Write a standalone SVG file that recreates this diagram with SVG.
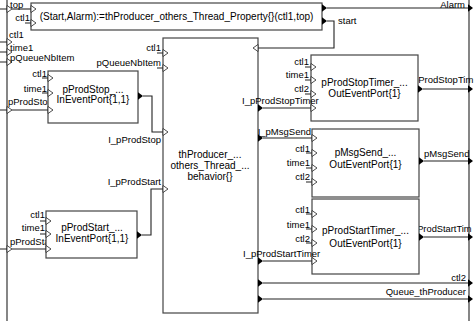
<svg xmlns="http://www.w3.org/2000/svg" xmlns:xlink="http://www.w3.org/1999/xlink" width="474" height="321" viewBox="0 0 474 321">
<style>
  .blk { fill: #fff; stroke: #444; stroke-width: 1.2; }
  .w { fill: none; stroke: #222; stroke-width: 1.1; }
  .hin { fill: #fff; stroke: #222; stroke-width: 0.8; }
  .fout { fill: #000; stroke: none; }
  text { font-family: "Liberation Sans", Arial, sans-serif; fill: #000; }
  .l { font-size: 9.5px; }
  .r { font-size: 9.5px; text-anchor: end; }
  .t { font-size: 10px; text-anchor: middle; }
</style>
<defs>
  <path id="ti" class="hin" d="M0,-3.5 L5,0 L0,3.5 Z"/>
  <path id="tl" class="hin" d="M0,-3.5 L-5,0 L0,3.5 Z"/>
  <path id="to" class="fout" d="M0,-3.8 L5,0 L0,3.8 Z"/>
</defs>

<g id="connectors">
  <line class="w" x1="7" y1="0" x2="7" y2="321"/>
  <line class="w" x1="469" y1="0" x2="469" y2="321"/>
  <path class="w" d="M0,9 H7 M0,42 H7 M0,52 H7 M0,62 H7 M0,110 H7 M0,249 H7"/>
  <path class="w" d="M12,9 H31"/>
  <path class="w" d="M12,110 H48"/>
  <path class="w" d="M12,249 H46"/>
  <path class="w" d="M327,8 H468"/>
  <path class="w" d="M327,21 H334 V48 H258"/>
  <path class="w" d="M143,96 H152 V132 H163"/>
  <path class="w" d="M142,235 H151 V189 H163"/>
  <path class="w" d="M263,108 H311"/>
  <path class="w" d="M263,138 H312"/>
  <path class="w" d="M263,261 H312"/>
  <path class="w" d="M263,283 H468"/>
  <path class="w" d="M263,299 H468"/>
  <path class="w" d="M423,89 H468"/>
  <path class="w" d="M424,161 H468"/>
  <path class="w" d="M424,237 H468"/>
  <path class="w" d="M25,23 H31 M42,78 H48 M42,93 H48 M40,221 H46 M40,234 H46 M157,53 H163 M157,68 H163 M305,67 H311 M305,80 H311 M305,94 H311 M306,153 H312 M306,168 H312 M306,182 H312 M306,214 H312 M306,229 H312 M306,243 H312"/>
  <use href="#ti" x="7" y="9"/>
  <use href="#ti" x="7" y="42"/>
  <use href="#ti" x="7" y="52"/>
  <use href="#ti" x="7" y="62"/>
  <use href="#ti" x="7" y="110"/>
  <use href="#ti" x="7" y="249"/>
  <use href="#to" x="468" y="8"/>
  <use href="#to" x="468" y="89"/>
  <use href="#to" x="468" y="161"/>
  <use href="#to" x="468" y="237"/>
  <use href="#to" x="468" y="283"/>
  <use href="#to" x="468" y="299"/>
  <text class="r" x="465" y="8">Alarm</text>
  <text class="l" x="338" y="24">start</text>
  <text class="l" x="413" y="82.5">pProdStopTim</text>
  <text class="l" x="424" y="156.5">pMsgSend</text>
  <text class="l" x="412" y="231.5" style="font-size:9.3px">pProdStartTim</text>
  <text class="r" x="466" y="280.5">ctl2</text>
  <text class="r" x="466" y="294.5">Queue_thProducer</text>
  <text class="l" x="10" y="8">top</text>
  <text class="l" x="9" y="37.5">ctl1</text>
  <text class="l" x="10" y="50.5">time1</text>
  <text class="l" x="10" y="60.5">pQueueNbItem</text>
  <text class="l" x="8" y="104.5">pProdStop</text>
  <text class="l" x="10" y="244.5">pProdStart</text>
</g>

<g id="property">
  <rect class="blk" x="31" y="3" width="291" height="27"/>
  <text class="t" x="176.5" y="19.5">(Start,Alarm):=thProducer_others_Thread_Property{}(ctl1,top)</text>
  <use href="#ti" x="31" y="9"/>
  <use href="#ti" x="31" y="23"/>
  <text class="r" x="30" y="21">ctl1</text>
  <use href="#to" x="322" y="8"/>
  <use href="#to" x="322" y="21"/>
</g>

<g id="behavior">
  <rect class="blk" x="163" y="38" width="95" height="275"/>
  <text class="t" x="210" y="158">thProducer_...</text>
  <text class="t" x="210" y="169">others_Thread_...</text>
  <text class="t" x="210" y="180">behavior{}</text>
  <use href="#ti" x="163" y="53"/>
  <use href="#ti" x="163" y="68"/>
  <use href="#ti" x="163" y="132"/>
  <use href="#ti" x="163" y="189"/>
  <use href="#tl" x="258" y="48"/>
  <text class="r" x="161" y="50.5">ctl1</text>
  <text class="r" x="161" y="65.5">pQueueNbItem</text>
  <text class="r" x="161" y="142.5">I_pProdStop</text>
  <text class="r" x="161" y="184.5">I_pProdStart</text>
  <use href="#to" x="258" y="108"/>
  <use href="#to" x="258" y="138"/>
  <use href="#to" x="258" y="261"/>
  <use href="#to" x="258" y="283"/>
  <use href="#to" x="258" y="299"/>
</g>

<g id="pProdStop">
  <rect class="blk" x="48" y="71" width="90" height="52"/>
  <text class="t" x="93" y="92.5">pProdStop_...</text>
  <text class="t" x="93" y="103">InEventPort{1,1}</text>
  <use href="#ti" x="48" y="78"/>
  <use href="#ti" x="48" y="93"/>
  <use href="#ti" x="48" y="110"/>
  <text class="r" x="47" y="76.5">ctl1</text>
  <text class="r" x="47" y="91.5">time1</text>
  <use href="#to" x="138" y="96"/>
</g>

<g id="pProdStart">
  <rect class="blk" x="46" y="211" width="91" height="47"/>
  <text class="t" x="92" y="230.5">pProdStart_...</text>
  <text class="t" x="92" y="241.5">InEventPort{1,1}</text>
  <use href="#ti" x="46" y="221"/>
  <use href="#ti" x="46" y="234"/>
  <use href="#ti" x="46" y="249"/>
  <text class="r" x="45" y="217.5">ctl1</text>
  <text class="r" x="45" y="231">time1</text>
  <use href="#to" x="137" y="235"/>
</g>

<g id="pProdStopTimer">
  <rect class="blk" x="311" y="55" width="107" height="66"/>
  <text class="t" x="364.5" y="85.5">pProdStopTimer_...</text>
  <text class="t" x="364.5" y="97">OutEventPort{1}</text>
  <use href="#ti" x="311" y="67"/>
  <use href="#ti" x="311" y="80"/>
  <use href="#ti" x="311" y="94"/>
  <use href="#ti" x="311" y="108"/>
  <text class="r" x="309" y="64.5">ctl1</text>
  <text class="r" x="309" y="77.5">time1</text>
  <text class="r" x="309" y="91.5">ctl2</text>
  <text class="l" x="242" y="104">I_pProdStopTimer</text>
  <use href="#to" x="418" y="89"/>
</g>

<g id="pMsgSend">
  <rect class="blk" x="312" y="129" width="107" height="68"/>
  <text class="t" x="365.5" y="155.5">pMsgSend_...</text>
  <text class="t" x="365.5" y="167.5">OutEventPort{1}</text>
  <use href="#ti" x="312" y="138"/>
  <use href="#ti" x="312" y="153"/>
  <use href="#ti" x="312" y="168"/>
  <use href="#ti" x="312" y="182"/>
  <text class="r" x="311" y="135">I_pMsgSend</text>
  <text class="r" x="310" y="151.5">ctl1</text>
  <text class="r" x="310" y="165.5">time1</text>
  <text class="r" x="310" y="179.5">ctl2</text>
  <use href="#to" x="419" y="161"/>
</g>

<g id="pProdStartTimer">
  <rect class="blk" x="312" y="199" width="107" height="75"/>
  <text class="t" x="365.5" y="233.5">pProdStartTimer_...</text>
  <text class="t" x="365.5" y="246.5">OutEventPort{1}</text>
  <use href="#ti" x="312" y="214"/>
  <use href="#ti" x="312" y="229"/>
  <use href="#ti" x="312" y="243"/>
  <use href="#ti" x="312" y="261"/>
  <text class="r" x="310" y="212.5">ctl1</text>
  <text class="r" x="310" y="227.5">time1</text>
  <text class="r" x="310" y="241.5">ctl2</text>
  <text class="l" x="243" y="256.5">I_pProdStartTimer</text>
  <use href="#to" x="419" y="237"/>
</g>
</svg>
